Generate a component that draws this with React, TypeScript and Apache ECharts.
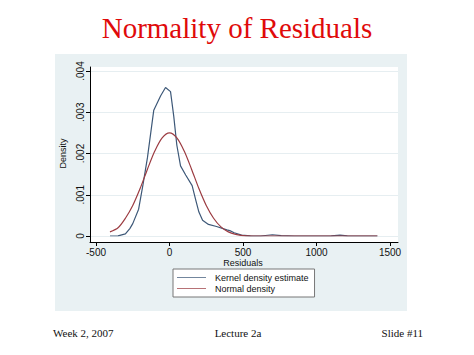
import React, { useEffect, useRef } from "react";
import * as echarts from "echarts";

const titleText = "Normality of Residuals";
const footerTexts = ["Week 2, 2007", "Lecture 2a", "Slide #11"];
const seriesNames = ["Kernel density estimate", "Normal density"];
const xTicks = [-500, 0, 500, 1000, 1500];
const yTicks = [0, 0.001, 0.002, 0.003, 0.004];

const kernelX = [-405, -350, -300, -270, -250, -210, -180, -150, -107, -60, -27, 7, 29, 50, 75, 110, 154, 180, 200, 225, 265, 320, 390, 410, 440, 490, 550, 620, 700, 760, 850, 1000, 1100, 1160, 1210, 1300, 1414];
const kernelY = [0, 0.000005, 0.00005, 0.00018, 0.0003, 0.00065, 0.00125, 0.0019, 0.00305, 0.0034, 0.0036, 0.0035, 0.0029, 0.0022, 0.0017, 0.00148, 0.00122, 0.00085, 0.00058, 0.00038, 0.00028, 0.00023, 0.00015, 0.00013, 0.00008, 0.00002, 0.000005, 0, 0.00003, 0.00001, 0, 0, 0.000005, 0.00002, 0.000005, 0, 0];

const normalX = [-405, -350, -300, -250, -200, -150, -100, -50, 0, 50, 100, 150, 200, 250, 300, 350, 400, 450, 500, 600, 700, 800, 900, 1000, 1100, 1200, 1300, 1414];
const normalY = [0.0001, 0.0002, 0.00043, 0.00074, 0.00115, 0.00162, 0.00206, 0.00238, 0.0025, 0.00238, 0.00206, 0.00162, 0.00115, 0.00074, 0.00043, 0.00022, 0.0001, 0.00004, 0.00001, 0, 0, 0, 0, 0, 0, 0, 0, 0];

const kernelColor = "#3d5878";
const normalColor = "#9c3c42";

export default function App() {
  const ref = useRef<HTMLDivElement>(null);
  useEffect(() => {
    if (!ref.current) return;
    const chart = echarts.init(ref.current, null, { renderer: "svg" });
    const sans = "Liberation Sans, Arial, sans-serif";
    const serif = "Liberation Serif, Times New Roman, serif";
    const lineIcon = "path://M0,0 L40,0 L40,1 L0,1 Z";
    chart.setOption({
      animation: false,
      backgroundColor: "#ffffff",
      title: {
        text: titleText,
        left: "center",
        top: 8,
        textStyle: { fontFamily: serif, fontSize: 29, fontWeight: "normal", color: "#e00a0a" },
      },
      graphic: [
        { type: "rect", z: -100, shape: { x: 55, y: 54, width: 352, height: 257 }, style: { fill: "#e9f1f3" }, silent: true },
        { type: "text", x: 53, y: 333, style: { text: footerTexts[0], font: `11px ${serif}`, fill: "#111", verticalAlign: "middle", textAlign: "left" } },
        { type: "text", x: 238, y: 333, style: { text: footerTexts[1], font: `11px ${serif}`, fill: "#111", verticalAlign: "middle", textAlign: "center" } },
        { type: "text", x: 423, y: 333, style: { text: footerTexts[2], font: `11px ${serif}`, fill: "#111", verticalAlign: "middle", textAlign: "right" } },
      ],
      legend: {
        left: 173,
        top: 269,
        orient: "vertical",
        backgroundColor: "#ffffff",
        borderColor: "#777",
        borderWidth: 1,
        borderRadius: 0,
        padding: [4, 6, 4, 4],
        itemGap: 2,
        itemWidth: 29,
        itemHeight: 1,
        textStyle: { fontFamily: sans, fontSize: 9, color: "#111", padding: [0, 0, 0, 4] },
        data: [
          { name: seriesNames[0], icon: lineIcon, itemStyle: { color: kernelColor } },
          { name: seriesNames[1], icon: lineIcon, itemStyle: { color: normalColor } },
        ],
      },
      grid: [
        { left: 90, right: 76, top: 67, bottom: 113, show: true, backgroundColor: "#ffffff", borderWidth: 0 },
        { left: 96, right: 84, top: 71, bottom: 119 },
        { left: 90, right: 76, top: 71, bottom: 119 },
      ],
      xAxis: [
        { gridIndex: 0, type: "value", min: 0, max: 1, axisLine: { show: true, onZero: false, lineStyle: { color: "#000", width: 1 } }, axisTick: { show: false }, axisLabel: { show: false }, splitLine: { show: false } },
        {
          gridIndex: 1, type: "value", min: xTicks[0], max: xTicks[xTicks.length - 1], interval: 500, offset: 6,
          axisLine: { show: false, onZero: false }, axisTick: { show: true, length: 4, lineStyle: { color: "#000" } },
          axisLabel: { margin: 5, fontFamily: sans, fontSize: 10, color: "#111", formatter: (v: number) => String(v) },
          splitLine: { show: false },
          name: "Residuals", nameLocation: "middle", nameGap: 16,
          nameTextStyle: { fontFamily: sans, fontSize: 9, color: "#111" },
        },
        { gridIndex: 2, type: "value", show: false, min: 0, max: 1 },
      ],
      yAxis: [
        { gridIndex: 0, type: "value", min: 0, max: 1, axisLine: { show: true, onZero: false, lineStyle: { color: "#000", width: 1 } }, axisTick: { show: false }, axisLabel: { show: false }, splitLine: { show: false } },
        {
          gridIndex: 1, type: "value", min: yTicks[0], max: yTicks[yTicks.length - 1], interval: 0.001, offset: 6,
          axisLine: { show: false, onZero: false }, axisTick: { show: true, length: 4, lineStyle: { color: "#000" } },
          axisLabel: {
            margin: 5, rotate: 90, fontFamily: sans, fontSize: 10, color: "#111",
            formatter: (v: number) => (Math.abs(v) < 1e-9 ? "0" : v.toFixed(3).replace(/^0/, "")),
          },
          splitLine: { show: false },
          name: "Density", nameLocation: "middle", nameRotate: 90, nameGap: 17,
          nameTextStyle: { fontFamily: sans, fontSize: 9, color: "#111" },
        },
        {
          gridIndex: 2, type: "value", min: yTicks[0], max: yTicks[yTicks.length - 1], interval: 0.001,
          axisLine: { show: false }, axisTick: { show: false }, axisLabel: { show: false },
          splitLine: { show: true, lineStyle: { color: "#e6eef1", width: 1 } },
        },
      ],
      series: [
        {
          name: seriesNames[0], type: "line", xAxisIndex: 1, yAxisIndex: 1, symbol: "none",
          lineStyle: { color: kernelColor, width: 1.2 }, itemStyle: { color: kernelColor },
          data: kernelX.map((x, i) => [x, kernelY[i]]),
        },
        {
          name: seriesNames[1], type: "line", xAxisIndex: 1, yAxisIndex: 1, symbol: "none", smooth: 0.3,
          lineStyle: { color: normalColor, width: 1.2 }, itemStyle: { color: normalColor },
          data: normalX.map((x, i) => [x, normalY[i]]),
        },
      ],
    });
    return () => chart.dispose();
  }, []);
  return <div ref={ref} style={{ position: "fixed", left: 0, top: 0, width: 474, height: 355 }} />;
}
